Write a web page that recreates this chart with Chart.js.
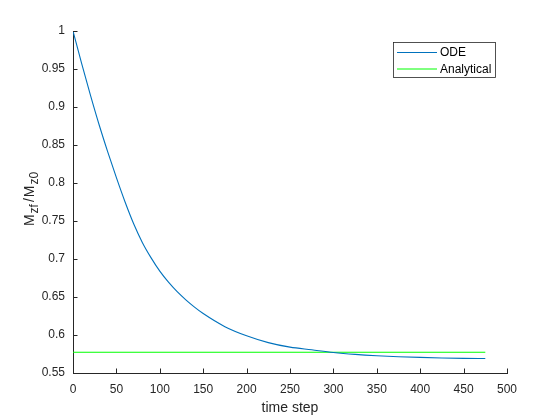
<!DOCTYPE html>
<html>
<head>
<meta charset="utf-8">
<script src="https://cdn.jsdelivr.net/npm/chart.js@4"></script>
<style>
  html, body { margin: 0; padding: 0; background: #ffffff; }
  #wrap { width: 560px; height: 420px; }
</style>
</head>
<body>
<div id="wrap"><canvas id="relax" width="560" height="420"></canvas></div>
<script>
// values
var timeSteps = [0, 10, 20, 30, 40, 50, 60, 70, 80, 90, 100, 110, 120, 130, 140, 150, 175, 200, 225, 250, 275, 300, 325, 350, 375, 400, 425, 450, 475];
var odeValues = [1.000, 0.957, 0.916, 0.877, 0.841, 0.807, 0.775, 0.746, 0.7215, 0.7015, 0.684, 0.6695, 0.657, 0.6463, 0.6367, 0.6282, 0.611, 0.599, 0.590, 0.584, 0.5805, 0.577, 0.5745, 0.5727, 0.5714, 0.5705, 0.5698, 0.5693, 0.569];
var analyticalSteps = [0, 475];
var analyticalValues = [0.5774, 0.5774];
var seriesNames = ["ODE", "Analytical"];

var axisColor = "#262626";
var fontFamily = "'Liberation Sans', Arial, sans-serif";

function toPoints(xs, ys) {
  return xs.map(function (x, i) { return { x: x, y: ys[i] }; });
}

// MATLAB style ticks pointing into the plot
var inwardTicks = {
  id: 'inwardTicks',
  afterDatasetsDraw: function (chart) {
    var ctx = chart.ctx;
    var xs = chart.scales.x, ys = chart.scales.y;
    var area = chart.chartArea;
    ctx.save();
    ctx.strokeStyle = axisColor;
    ctx.lineWidth = 1;
    ctx.beginPath();
    xs.ticks.forEach(function (t, i) {
      var px = Math.round(xs.getPixelForTick(i)) + 0.5;
      ctx.moveTo(px, area.bottom);
      ctx.lineTo(px, area.bottom - 4.5);
    });
    ys.ticks.forEach(function (t, i) {
      var py = Math.round(ys.getPixelForTick(i)) + 0.5;
      ctx.moveTo(area.left, py);
      ctx.lineTo(area.left + 4.5, py);
    });
    ctx.stroke();
    ctx.restore();
  }
};

// axis titles (y title has subscripts)
var axisTitles = {
  id: 'axisTitles',
  afterDraw: function (chart) {
    var ctx = chart.ctx;
    var area = chart.chartArea;
    ctx.save();
    ctx.fillStyle = axisColor;
    ctx.font = "14px " + fontFamily;
    ctx.textAlign = "center";
    ctx.textBaseline = "alphabetic";
    ctx.fillText("time step", (area.left + area.right) / 2, 412);

    var parts = [
      { t: "M", sub: false }, { t: "zf", sub: true },
      { t: "/", sub: false }, { t: "M", sub: false }, { t: "z0", sub: true }
    ];
    var mainFont = "14px " + fontFamily, subFont = "12px " + fontFamily;
    var total = 0;
    parts.forEach(function (p) {
      ctx.font = p.sub ? subFont : mainFont;
      p.w = ctx.measureText(p.t).width + (p.sub ? 2 : 1);
      total += p.w;
    });
    ctx.translate(34, (area.top + area.bottom) / 2 - 4);
    ctx.rotate(-Math.PI / 2);
    ctx.textAlign = "left";
    var pos = -total / 2;
    parts.forEach(function (p) {
      ctx.font = p.sub ? subFont : mainFont;
      ctx.fillText(p.t, pos, p.sub ? 3.5 : 0);
      pos += p.w;
    });
    ctx.restore();
  }
};

// legend box in the upper right
var boxLegend = {
  id: 'boxLegend',
  afterDraw: function (chart) {
    var ctx = chart.ctx;
    var sets = chart.data.datasets;
    ctx.save();
    ctx.fillStyle = "#ffffff";
    ctx.fillRect(393.5, 42.5, 102, 35);
    ctx.strokeStyle = axisColor;
    ctx.lineWidth = 0.8;
    ctx.strokeRect(393.5, 42.5, 102, 35);
    ctx.font = "12px " + fontFamily;
    ctx.textAlign = "left";
    ctx.textBaseline = "middle";
    sets.forEach(function (ds, i) {
      var y = 52.5 + i * 16.5;
      ctx.strokeStyle = ds.borderColor;
      ctx.lineWidth = 1;
      ctx.beginPath();
      ctx.moveTo(397, y);
      ctx.lineTo(437, y);
      ctx.stroke();
      ctx.fillStyle = "#000000";
      ctx.fillText(ds.label, 440, y + 0.5);
    });
    ctx.restore();
  }
};

var ctxRelax = document.getElementById('relax').getContext('2d');

new Chart(ctxRelax, {
  type: 'scatter',
  data: {
    datasets: [
      {
        label: seriesNames[0],
        data: toPoints(timeSteps, odeValues),
        showLine: true,
        borderColor: "#0072BD",
        borderWidth: 1.1,
        pointRadius: 0,
        cubicInterpolationMode: 'monotone',
        fill: false
      },
      {
        label: seriesNames[1],
        data: toPoints(analyticalSteps, analyticalValues),
        showLine: true,
        borderColor: "#00FF00",
        borderWidth: 1.1,
        pointRadius: 0,
        fill: false
      }
    ]
  },
  options: {
    responsive: false,
    animation: false,
    layout: { padding: { left: 0, top: 31, right: 53, bottom: 0 } },
    plugins: {
      legend: { display: false },
      tooltip: { enabled: false }
    },
    scales: {
      x: {
        type: 'linear',
        min: 0,
        max: 500,
        afterFit: function (scale) { scale.height = 47; },
        ticks: {
          stepSize: 50,
          padding: 9,
          color: axisColor,
          maxRotation: 0,
          font: { family: fontFamily, size: 12 }
        },
        grid: { display: true, drawOnChartArea: false, drawTicks: false },
        border: { display: true, color: axisColor, width: 1 }
      },
      y: {
        min: 0.55,
        max: 1,
        afterFit: function (scale) { scale.width = 73; },
        ticks: {
          stepSize: 0.05,
          padding: 8,
          color: axisColor,
          font: { family: fontFamily, size: 12 },
          callback: function (value) { return String(Math.round(value * 100) / 100); }
        },
        grid: { display: true, drawOnChartArea: false, drawTicks: false },
        border: { display: true, color: axisColor, width: 1 }
      }
    }
  },
  plugins: [inwardTicks, axisTitles, boxLegend]
});
</script>
</body>
</html>
